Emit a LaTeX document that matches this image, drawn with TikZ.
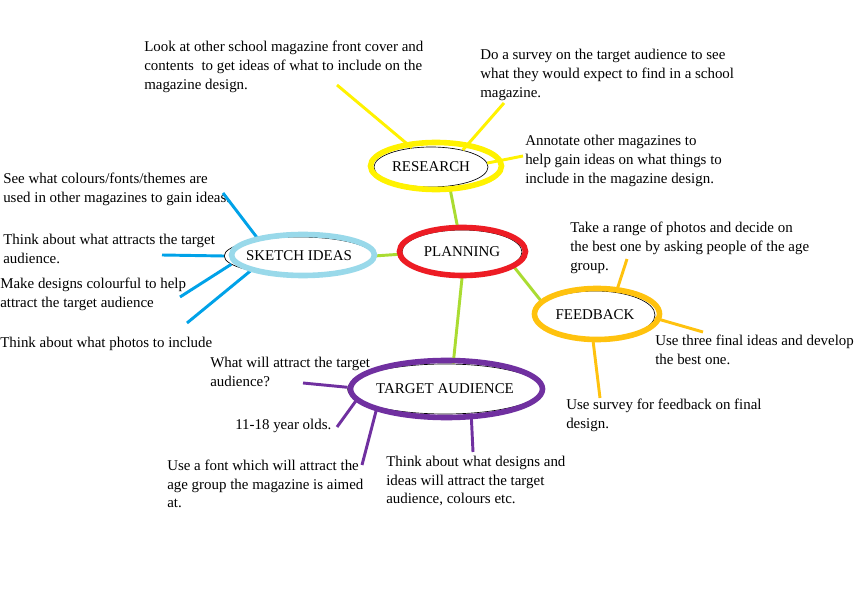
\documentclass[tikz,border=0pt]{standalone}
\usepackage{fontspec}
\setmainfont{Liberation Serif}
\usetikzlibrary{shapes.geometric}
\definecolor{ryellow}{RGB}{255,242,0}
\definecolor{rred}{RGB}{237,28,36}
\definecolor{rlblue}{RGB}{153,217,234}
\definecolor{rblue}{RGB}{0,162,232}
\definecolor{rgold}{RGB}{255,194,14}
\definecolor{rpurple}{RGB}{112,48,160}
\definecolor{rgreen}{RGB}{170,220,50}
\tikzset{
  x=0.75pt, y=-0.75pt,
  every node/.style={font=\fontsize{11.2}{14.25}\selectfont, inner sep=0pt},
  topic/.style={ellipse, draw=black, line width=0.5pt},
  note/.style={anchor=base west},
  ring/.style={line width=4.2pt},
  conn/.style={line width=2.2pt},
}
\newcommand{\lines}[1]{\begin{tabular}[t]{@{}l@{}}#1\end{tabular}}
\begin{document}
\begin{tikzpicture}
\useasboundingbox[fill=white] (0,0) rectangle (861,602);

% topic ellipses (thin black outline)
\node[topic, minimum width=85.5pt, minimum height=30pt] (research) at (431,167) {RESEARCH};
\node[topic, minimum width=90pt, minimum height=33pt] (planning) at (462,252) {PLANNING};
\node[topic, minimum width=97.5pt, minimum height=28.5pt] (sketch) at (299,256) {SKETCH IDEAS};
\node[topic, minimum width=90pt, minimum height=36pt] (feedback) at (595,315) {FEEDBACK};
\node[topic, minimum width=136.5pt, minimum height=37.5pt] (target) at (445,389) {TARGET AUDIENCE};

% notes
\node[note] (n1) at (144,52) {\lines{Look at other school magazine front cover and\\contents\ \ to get ideas of what to include on the\\magazine design.}};
\node[note] (n2) at (480,60) {\lines{Do a survey on the target audience to see\\what they would expect to find in a school\\magazine.}};
\node[note] (n3) at (525,146) {\lines{Annotate other magazines to\\help gain ideas on what things to\\include in the magazine design.}};
\node[note] (n4) at (3,184) {\lines{See what colours/fonts/themes are\\used in other magazines to gain ideas.}};
\node[note] (n5) at (3,245) {\lines{Think about what attracts the target\\audience.}};
\node[note] (n6) at (0,289) {\lines{Make designs colourful to help\\attract the target audience}};
\node[note] (n7) at (0,348) {\lines{Think about what photos to include}};
\node[note] (n8) at (570,233) {\lines{Take a range of photos and decide on\\the best one by asking people of the age\\group.}};
\node[note] (n9) at (655,346) {\lines{Use three final ideas and develop\\the best one.}};
\node[note] (n10) at (566,410) {\lines{Use survey for feedback on final\\design.}};
\node[note] (n11) at (210,368) {\lines{What will attract the target\\audience?}};
\node[note] (n12) at (235,430) {\lines{11-18 year olds.}};
\node[note] (n13) at (167,470) {\lines{Use a font which will attract the\\age group the magazine is aimed\\at.}};
\node[note] (n14) at (386,466) {\lines{Think about what designs and\\ideas will attract the target\\audience, colours etc.}};

% free ends of connectors
\coordinate (e1) at (337,85);
\coordinate (e2) at (504,103);
\coordinate (e3) at (523,156);
\coordinate (e4) at (223,193);
\coordinate (e5) at (162,255);
\coordinate (e6) at (180,297);
\coordinate (e7) at (187,323);
\coordinate (e8) at (627,259);
\coordinate (e9) at (703,332);
\coordinate (e10) at (600,398);
\coordinate (e11) at (303,383);
\coordinate (e12) at (337,427);
\coordinate (e13) at (362,465);
\coordinate (e14) at (473,452);

% connectors
\draw[conn, rgreen] (research.-46) -- (planning.100);
\draw[conn, rgreen] (sketch.0) -- (planning.182);
\draw[conn, rgreen] (planning.-14) -- (feedback.167);
\draw[conn, rgreen] (planning.-89) -- (target.72);

\draw[conn, ryellow] (research.135) -- (e1);
\draw[conn, ryellow] (research.28) -- (e2);
\draw[conn, ryellow] (research.4) -- (e3);

\draw[conn, rblue] (sketch.158) -- (e4);
\draw[conn, rblue] (sketch.180) -- (e5);
\draw[conn, rblue] (sketch.187) -- (e6);
\draw[conn, rblue] (sketch.197) -- (e7);

\draw[conn, rgold] (feedback.47) -- (e8);
\draw[conn, rgold] (feedback.-3) -- (e9);
\draw[conn, rgold] (feedback.-95) -- (e10);

\draw[conn, rpurple] (target.179) -- (e11);
\draw[conn, rpurple] (target.187) -- (e12);
\draw[conn, rpurple] (target.195) -- (e13);
\draw[conn, rpurple] (target.-43) -- (e14);

% coloured rings
\draw[ring, ryellow] (436,166) ellipse [x radius=65.5, y radius=23.5];
\draw[ring, rred] (462.5,251.5) ellipse [x radius=63, y radius=24];
\draw[ring, rlblue] (303,255) ellipse [x radius=71.5, y radius=20.5];
\draw[ring, rgold] (597,314) ellipse [x radius=62.5, y radius=25.5];
\draw[ring, rpurple] (446.5,389) ellipse [x radius=96, y radius=28.5];
\end{tikzpicture}
\end{document}
